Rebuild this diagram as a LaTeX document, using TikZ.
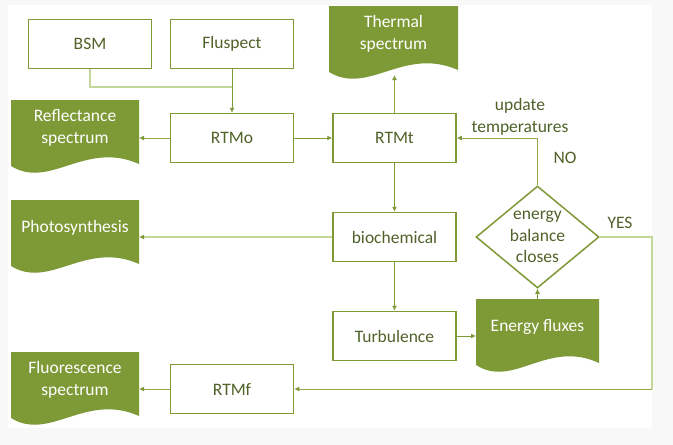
\documentclass[tikz,border=0pt]{standalone}
\usepackage{fontspec}
\setmainfont{Carlito}
\usetikzlibrary{shapes.geometric,arrows.meta}
\definecolor{docgreen}{HTML}{7E9A36}
\definecolor{boxline}{HTML}{7E9A36}
\definecolor{txtgreen}{HTML}{4F6228}
\definecolor{lightline}{HTML}{C4D79B}
\definecolor{midline}{HTML}{8FA94C}
\definecolor{outerbg}{HTML}{F8F8F8}
\tikzset{
  procbox/.style={draw=boxline, line width=1.5pt, fill=white, minimum width=123pt, minimum height=49pt, inner sep=0pt, text=txtgreen, font=\fontsize{17.5}{21}\selectfont},
  doctext/.style={text=white, align=center, inner sep=0pt, font=\fontsize{17.5}{21.5}\selectfont},
  lbl/.style={text=txtgreen, align=center, inner sep=0pt, font=\fontsize{17.5}{21.5}\selectfont},
  conn/.style={draw=boxline, line width=0.9pt, -{Latex[length=5pt,width=5pt]}},
  lconn/.style={draw=lightline, line width=1.1pt},
  lconna/.style={draw=lightline, line width=1.1pt, -{Latex[length=5pt,width=5pt,fill=boxline,color=boxline]}},
  mconn/.style={draw=midline, line width=0.9pt, -{Latex[length=5pt,width=5pt,color=boxline]}},
}
\newcommand\docshape[3]{% x1, y1, width
  \fill[docgreen, shift={(#1,#2)}] (0,0) -- (#3,0) -- (#3,64) .. controls ({#3*0.58},40) and ({#3*0.305},90) .. (0,66) -- cycle;
}
\begin{document}
\begin{tikzpicture}[x=1pt,y=-1pt]
\useasboundingbox (0,0) rectangle (673,445);
\fill[outerbg] (0,0) rectangle (673,445);
\fill[white] (8,5) rectangle (652,428);

% document shapes
\docshape{11}{100}{128}
\docshape{329}{6}{129}
\docshape{11}{200}{128}
\docshape{11}{352}{128}
\docshape{476}{299}{123}

\node[doctext] (refl) at (75,128) {Reflectance\\spectrum};
\node[doctext] (therm) at (393.5,34) {Thermal\\spectrum};
\node[doctext] (photo) at (75,228) {Photosynthesis};
\node[doctext] (fluor) at (75,380) {Fluorescence\\spectrum};
\node[doctext] (eflux) at (537.5,327) {Energy fluxes};

\coordinate (reflE) at (139,138);
\coordinate (thermS) at (394.5,75);
\coordinate (photoE) at (139,237);
\coordinate (fluorE) at (139,389);
\coordinate (efluxW) at (476,336);
\coordinate (efluxN) at (537.5,299);

% process boxes
\node[procbox] (bsm) at (90,44) {BSM};
\node[procbox] (flu) at (232,44) {Fluspect};
\node[procbox] (rtmo) at (232,138) {RTMo};
\node[procbox] (rtmt) at (394.5,138) {RTMt};
\node[procbox] (bio) at (394.5,237) {biochemical};
\node[procbox] (turb) at (394.5,336) {Turbulence};
\node[procbox] (rtmf) at (232,389) {RTMf};

% decision
\node[diamond, draw=boxline, line width=1.5pt, minimum width=123pt, minimum height=102pt, inner sep=0pt, aspect=1.2] (dec) at (537.5,237) {};
\node[lbl] (dectxt) at (537.5,237) {energy\\balance\\closes};

% labels
\node[lbl] (upd) at (520,117) {update\\temperatures};
\node[lbl] (no) at (565,158) {NO};
\node[lbl] (yes) at (620,223) {YES};

\coordinate (join) at (232,87);
\coordinate (yesR) at (652,237);
\coordinate (yesB) at (652,389);

% connectors
\draw[lconn] (bsm.south) |- (join);
\draw[conn] (flu.south) -- (rtmo.north);
\draw[mconn] (rtmo.west) -- (reflE);
\draw[conn] (rtmo.east) -- (rtmt.west);
\draw[mconn] (rtmt.north) -- (thermS);
\draw[conn] (rtmt.south) -- (bio.north);
\draw[lconna] (bio.west) -- (photoE);
\draw[conn] (bio.south) -- (turb.north);
\draw[conn] (turb.east) -- (efluxW);
\draw[conn] (efluxN) -- (dec.south);
\draw[mconn] (dec.north) |- (rtmt.east);
\draw[lconn] (dec.east) -- (yesR) -- (yesB);
\draw[mconn] (yesB) -- (rtmf.east);
\draw[mconn] (rtmf.west) -- (fluorE);
\end{tikzpicture}
\end{document}
